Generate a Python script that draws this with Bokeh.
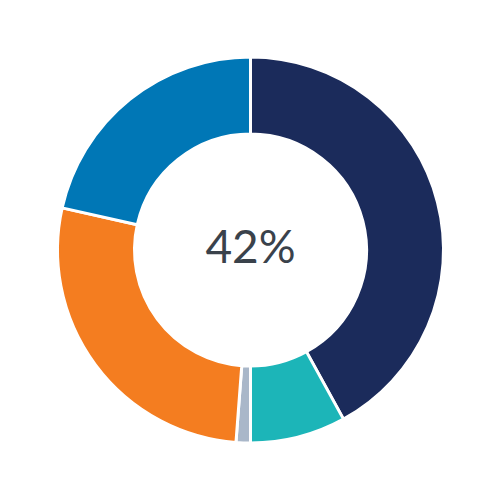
from math import pi
from bokeh.plotting import figure
from bokeh.models import ColumnDataSource, Range1d
from bokeh.core.properties import value
from bokeh.embed import file_html
from bokeh.resources import INLINE

categories = ["Navy", "Teal", "Gray", "Orange", "Blue"]
values = [42.0, 8.0, 1.2, 27.3, 21.5]
colors = ["#1b2b5b", "#1cb5b8", "#a9b7c9", "#f47d20", "#0077b6"]
center_label = "42%"

total = sum(values)
starts, ends = [], []
cum = 0.0
for v in values:
    starts.append(pi / 2 - cum / total * 2 * pi)
    cum += v
    ends.append(pi / 2 - cum / total * 2 * pi)

src = ColumnDataSource(dict(cat=categories, val=values, color=colors,
                            start=starts, end=ends))

W = 484
p = figure(width=W, height=W, output_backend="svg", toolbar_location=None,
           x_range=Range1d(-250, 234), y_range=Range1d(-234.5, 249.5),
           min_border=0)
p.axis.visible = False
p.grid.visible = False
p.outline_line_color = None
p.background_fill_color = "white"

p.annular_wedge(x=0, y=0, inner_radius=116, outer_radius=193,
                start_angle="start", end_angle="end", direction="clock",
                fill_color="color", line_color="white", line_width=3, source=src)

p.text(x=[0], y=[5], text=[center_label], text_align="center",
       text_baseline="middle", text_font=value("Lato"),
       text_font_size="46px", text_color="#3a424b")

open("out.html", "w").write(file_html(p, INLINE))
